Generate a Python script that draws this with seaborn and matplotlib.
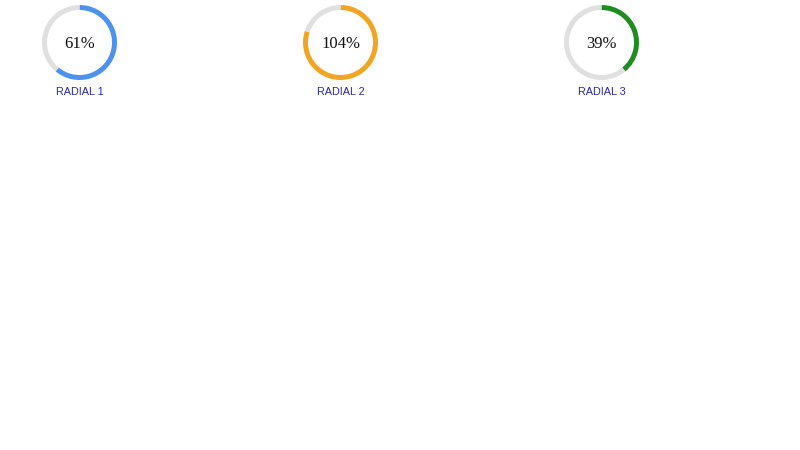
import matplotlib
matplotlib.use("Agg")
import matplotlib.pyplot as plt
import seaborn as sns

# gauge data
labels = ["RADIAL 1", "RADIAL 2", "RADIAL 3"]
values = [61, 104, 39]
max_values = [100, 130, 100]
colors = ["#4e92f0", "#f0a524", "#1e8c1e"]
track_color = "#e0e0e0"

sns.set_theme(style="white")
plt.rcParams['font.family'] = ['Liberation Sans', 'DejaVu Sans']

fig = plt.figure(figsize=(8, 4.5), dpi=100)
ax = fig.add_axes([0, 0, 1, 1])

centers_x = [79.5, 340.5, 601.5]
cy = 450 - 42.5
r_out = 37.5
ring = 5

for cx, lab, val, vmax, col in zip(centers_x, labels, values, max_values, colors):
    frac = min(val / vmax, 1.0)
    ax.pie([frac, 1 - frac], colors=[col, track_color], startangle=90,
           counterclock=False, center=(cx, cy), radius=r_out,
           wedgeprops=dict(width=ring, linewidth=0))
    ax.text(cx, cy - 1, f"{val}%", ha="center", va="center", fontsize=12,
            family=["Liberation Serif", "DejaVu Serif"], color="#111111")
    ax.text(cx, 450 - 92, lab, ha="center", va="center", fontsize=7.8,
            color="#2828a8")

ax.set_xlim(0, 800)
ax.set_ylim(0, 450)
ax.set_aspect("equal")
ax.axis("off")

fig.savefig("out.png", dpi=100)
